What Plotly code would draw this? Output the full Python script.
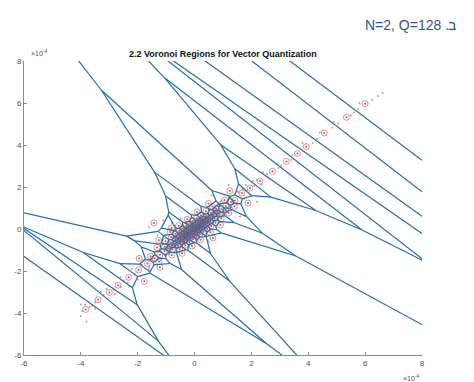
import numpy as np
import plotly.graph_objects as go

# Codebook vectors (units of 1e-4)
code_x = [
    # upper tail + outliers
    6.00, 5.34, 4.56, 3.93, 3.62, 3.23, 2.74, 2.30, 1.95, 1.66,
    1.24, 1.88, 1.42,
    # lower tail + outliers
    -3.83, -3.39, -3.00, -2.69, -2.32, -1.97, -1.66,
    -1.95, -1.22, -1.77, -1.43,
    -0.81, 0.65,
    # central band, along the diagonal
    -1.40, -1.22, -1.06, -0.92, -0.80, -0.69, -0.59, -0.50, -0.42, -0.34,
    -0.27, -0.20, -0.13, -0.06, 0.01, 0.08, 0.15, 0.22, 0.30, 0.38,
    0.47, 0.57, 0.68, 0.80, 0.94, 1.10, 1.28,
    -1.05, -0.84, -0.68, -0.56, -0.46, -0.37, -0.29, -0.21, -0.13, -0.05,
    0.03, 0.11, 0.20, 0.30, 0.42, 0.57, 0.76,
    -0.78, -0.58, -0.44, -0.33, -0.23, -0.14, -0.06, 0.02, 0.10, 0.18,
    0.26, 0.35, 0.45, 0.56, 0.70, 0.88, 1.10,
    -1.32, -1.02, -0.82, -0.67, -0.54, -0.42, -0.30, -0.18, -0.06, 0.07,
    0.22, 0.40, 0.63,
    -0.80, -0.52, -0.33, -0.18, -0.05, 0.07, 0.19, 0.31, 0.44, 0.58,
    0.74, 0.94, 1.20,
    -1.26, -0.86, -0.56, -0.26, 0.09, 0.49,
    -0.44, -0.09, 0.21, 0.56, 0.91,
    -1.55, -1.25, 1.05, 1.40,
]
code_y = [
    5.97, 5.32, 4.57, 3.92, 3.59, 3.22, 2.75, 2.28, 1.95, 1.71,
    1.82, 1.24, 1.36,
    -3.83, -3.37, -3.02, -2.68, -2.30, -1.95, -1.64,
    -1.40, -1.82, -2.49, 0.29,
    0.05, -0.43,
    -1.39, -1.23, -1.05, -0.93, -0.79, -0.70, -0.58, -0.51, -0.41, -0.35,
    -0.26, -0.21, -0.12, -0.07, 0.02, 0.07, 0.16, 0.21, 0.31, 0.37,
    0.48, 0.56, 0.69, 0.79, 0.95, 1.09, 1.29,
    -0.85, -0.64, -0.48, -0.36, -0.26, -0.17, -0.09, -0.01, 0.07, 0.15,
    0.23, 0.31, 0.40, 0.50, 0.62, 0.77, 0.96,
    -0.98, -0.78, -0.64, -0.53, -0.43, -0.34, -0.26, -0.18, -0.10, -0.02,
    0.06, 0.15, 0.25, 0.36, 0.50, 0.68, 0.90,
    -0.88, -0.58, -0.38, -0.23, -0.10, 0.02, 0.14, 0.26, 0.38, 0.51,
    0.66, 0.84, 1.07,
    -1.24, -0.96, -0.77, -0.62, -0.49, -0.37, -0.25, -0.13, 0.00, 0.14,
    0.30, 0.50, 0.76,
    -0.54, -0.14, 0.16, 0.46, 0.81, 1.21,
    -1.16, -0.81, -0.51, -0.16, 0.19,
    -1.30, -1.55, 1.38, 1.08,
]

# some of the training samples (units of 1e-4), read approximately
data_x = [6.25, 6.45, 6.62, 5.75, 5.60, 5.05, 4.85, 4.30, 4.15, 3.45, 3.05, 2.95,
          2.55, 2.10, 2.20, 1.70, 1.50, -3.70, -3.95, -3.60, -3.20, -2.85, -2.50,
          -2.10, -1.85, -1.60, -1.30, -1.05, 0.70, 0.90, 1.05, -0.60, -0.30, 0.40,
          1.30, 2.35, 1.75, -1.55, -2.35, -0.90, 0.20, -0.10, -4.00, -3.85,
          -3.50, -3.10, -2.60, 1.55, 0.95, -1.10, 2.60, 2.05,
          -1.80, -1.60, -1.40, -1.20, -1.00, -0.90, -0.70, -0.60, -0.50, -0.40,
          -0.30, -0.20, -0.10, 0.00, 0.10, 0.20, 0.30, 0.40, 0.50, 0.60,
          0.70, 0.80, 0.90, 1.00, 1.20, 1.30, 1.50, 1.60, 1.80, 2.00,
          -2.20, -2.00, -2.60, -2.80, -3.30, -3.50, -4.00, -3.80, -1.10, -1.60,
          -1.30, 0.90, 0.50, 0.20, -0.50, -0.80, 1.60, 2.20, 1.20, 0.60,
          2.40, 2.90, 3.40, 3.80, 4.40, 4.90, 5.50, 5.80]
data_y = [6.15, 6.33, 6.48, 5.70, 5.55, 5.02, 4.82, 4.28, 4.10, 3.50, 3.02, 2.90,
          2.60, 2.05, 2.35, 1.90, 1.20, -3.72, -3.90, -3.65, -3.15, -2.90, -2.45,
          -2.15, -1.70, -1.80, -1.05, -1.25, 0.55, 1.10, 0.85, -0.40, -0.55, 0.60,
          1.05, 2.10, 1.45, -1.40, -2.55, -0.60, 0.45, 0.15, -4.15, -3.60,
          -3.50, -2.85, -2.75, 1.75, 1.35, -0.70, 2.45, 2.30,
          -1.50, -1.90, -1.10, -1.50, -0.70, -1.20, -0.40, -0.90, -0.20, -0.70,
          0.10, -0.50, 0.30, -0.30, 0.50, -0.10, 0.70, 0.10, 0.90, 0.30,
          1.00, 0.50, 1.30, 0.70, 1.50, 0.90, 1.80, 1.20, 2.10, 1.60,
          -1.90, -2.40, -2.30, -3.10, -3.00, -3.80, -3.60, -4.40, 0.40, 0.10,
          -0.30, -0.20, -0.60, -0.80, 0.50, 0.30, 0.60, 1.30, 2.10, 1.60,
          2.70, 3.10, 3.30, 4.10, 4.60, 5.10, 5.40, 6.00]

x_ticks = [-6, -4, -2, 0, 2, 4, 6, 8]
y_ticks = [-6, -4, -2, 0, 2, 4, 6, 8]

# ---- Voronoi edges (bisector segments clipped by all half-planes) ----
P = np.column_stack([code_x, code_y]).astype(float)
n = len(P)
sq = (P ** 2).sum(1)
lo_b, hi_b = -7.0, 9.0
ex, ey = [], []
for i in range(n):
    for j in range(i + 1, n):
        d = P[j] - P[i]
        m = (P[i] + P[j]) / 2
        u = np.array([-d[1], d[0]])
        u /= np.linalg.norm(u)
        D = P - P[i]
        a = 2 * (D @ u)
        b = sq - sq[i] - 2 * (D @ m)
        mask = np.ones(n, bool)
        mask[[i, j]] = False
        a = a[mask]
        b = b[mask]
        pos = a > 1e-12
        neg = a < -1e-12
        if np.any(~pos & ~neg & (b < 0)):
            continue
        tlo, thi = -np.inf, np.inf
        if pos.any():
            thi = min(thi, (b[pos] / a[pos]).min())
        if neg.any():
            tlo = max(tlo, (b[neg] / a[neg]).max())
        ok = True
        for c in range(2):
            if abs(u[c]) > 1e-12:
                t1 = (lo_b - m[c]) / u[c]
                t2 = (hi_b - m[c]) / u[c]
                tlo = max(tlo, min(t1, t2))
                thi = min(thi, max(t1, t2))
            elif not (lo_b <= m[c] <= hi_b):
                ok = False
        if ok and thi - tlo > 1e-9:
            p1 = m + tlo * u
            p2 = m + thi * u
            ex += [p1[0], p2[0], None]
            ey += [p1[1], p2[1], None]

fig = go.Figure()
fig.add_trace(go.Scatter(x=data_x, y=data_y, mode="markers",
                         marker=dict(symbol="circle", size=2, color="rgba(180,110,110,0.7)"),
                         hoverinfo="skip", showlegend=False))
fig.add_trace(go.Scatter(x=code_x, y=code_y, mode="markers",
                         marker=dict(symbol="circle-open", size=6,
                                     color="rgba(205,80,80,0.8)", line=dict(width=0.8)),
                         showlegend=False))
fig.add_trace(go.Scatter(x=code_x, y=code_y, mode="markers",
                         marker=dict(symbol="circle", size=2, color="rgba(200,60,60,0.9)"),
                         showlegend=False))
fig.add_trace(go.Scatter(x=ex, y=ey, mode="lines",
                         line=dict(color="#1f6fae", width=1.2),
                         hoverinfo="skip", showlegend=False))

axis_common = dict(range=[-6, 8], showline=True, linecolor="#8a8a8a", linewidth=1,
                   ticks="inside", ticklen=3, tickcolor="#8a8a8a",
                   showgrid=False, zeroline=False, automargin=False,
                   tickfont=dict(family="Liberation Sans, Arial", size=8, color="#4d4d4d"))
fig.update_xaxes(tickvals=x_ticks, ticktext=[str(v) for v in x_ticks], **axis_common)
fig.update_yaxes(tickvals=y_ticks, ticktext=[str(v) for v in y_ticks], **axis_common)

hdr_font = dict(family="Liberation Sans, Arial", size=14, color="#2F5496")
fig.update_layout(
    width=474, height=382,
    margin=dict(l=16, r=60, t=53, b=35),
    paper_bgcolor="white", plot_bgcolor="white",
    annotations=[
        dict(text="<b>2.2 Voronoi Regions for Vector Quantization</b>",
             xref="paper", yref="paper", x=0.5, y=1.0, xanchor="center", yanchor="bottom",
             yshift=0, showarrow=False,
             font=dict(family="Liberation Sans, Arial", size=9, color="#111")),
        # Hebrew heading "ב. N=2, Q=128" as laid out right-to-left in the picture
        dict(text="N=2, Q=128 .", xref="paper", yref="paper", x=1.074, y=1.122,
             xanchor="right", yanchor="middle", showarrow=False, font=hdr_font),
        dict(text="ב", xref="paper", yref="paper", x=1.090, y=1.122,
             xanchor="right", yanchor="middle", showarrow=False, font=hdr_font),
        dict(text="×10<sup>-4</sup>", xref="paper", yref="paper", x=0.012, y=1.027,
             xanchor="left", yanchor="middle", showarrow=False,
             font=dict(family="Liberation Sans, Arial", size=7, color="#555")),
        dict(text="×10<sup>-4</sup>", xref="paper", yref="paper", x=0.948, y=-0.078,
             xanchor="left", yanchor="middle", showarrow=False,
             font=dict(family="Liberation Sans, Arial", size=7, color="#555")),
    ],
)
fig.write_html("out.html")
